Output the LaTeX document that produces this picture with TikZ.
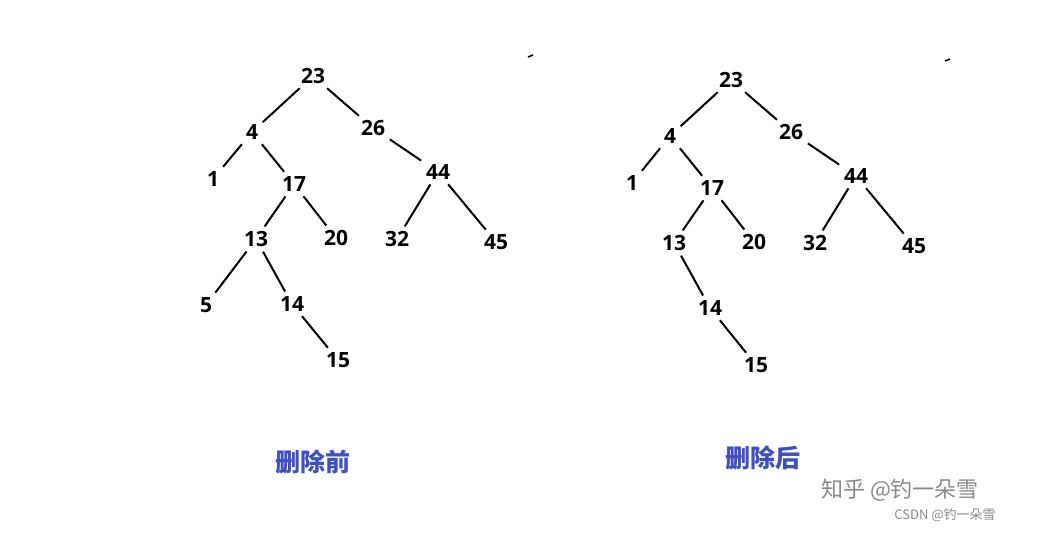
\documentclass[tikz,border=0pt]{standalone}
\usepackage{fontspec}
\setmainfont{Open Sans}
\newfontfamily\cjk{Noto Sans CJK SC}
\definecolor{lblue}{HTML}{3F4FC8}
\definecolor{wm}{HTML}{8A8A8A}
\begin{document}
\begin{tikzpicture}[x=1pt,y=-1pt,
  num/.style={font=\fontsize{21}{21}\selectfont\bfseries, inner sep=3pt},
  edge/.style={line width=2pt, shorten <=2pt, shorten >=2pt},
  captext/.style={font=\cjk\fontsize{25}{25}\selectfont\bfseries, text=lblue}]
\useasboundingbox (0,0) rectangle (1040,533);
\fill[white] (0,0) rectangle (1040,533);
% left tree
\node[num] (a23) at (313,76) {23};
\node[num] (a4) at (252,132) {4};
\node[num] (a26) at (373,128) {26};
\node[num] (a1) at (213,179) {1};
\node[num] (a17) at (294,184) {17};
\node[num] (a44) at (438,172) {44};
\node[num] (a13) at (256,239) {13};
\node[num] (a20) at (336,238) {20};
\node[num] (a32) at (397,239) {32};
\node[num] (a45) at (496,242) {45};
\node[num] (a5) at (206,305) {5};
\node[num] (a14) at (292,304) {14};
\node[num] (a15) at (338,360) {15};
\foreach \p/\c in {a23/a4,a23/a26,a4/a1,a4/a17,a26/a44,a17/a13,a17/a20,a44/a32,a44/a45,a13/a5,a13/a14,a14/a15}
  \draw[edge] (\p) -- (\c);
% right tree
\node[num] (b23) at (731,80) {23};
\node[num] (b4) at (670,136) {4};
\node[num] (b26) at (791,132) {26};
\node[num] (b1) at (632,183) {1};
\node[num] (b17) at (712,188) {17};
\node[num] (b44) at (856,176) {44};
\node[num] (b13) at (674,243) {13};
\node[num] (b20) at (754,242) {20};
\node[num] (b32) at (815,243) {32};
\node[num] (b45) at (914,246) {45};
\node[num] (b14) at (710,308) {14};
\node[num] (b15) at (756,365) {15};
\foreach \p/\c in {b23/b4,b23/b26,b4/b1,b4/b17,b26/b44,b17/b13,b17/b20,b44/b32,b44/b45,b13/b14,b14/b15}
  \draw[edge] (\p) -- (\c);
% small marks
\draw[line width=1.5pt] (528,57) -- (533,55);
\draw[line width=1.5pt] (945,61) -- (950,59);
% captions
\node[captext] (c1) at (313,462) {删除前};
\node[captext] (c2) at (763,458) {删除后};
\node[font=\cjk\fontsize{22}{22}\selectfont, text=wm] (w1) at (900,490) {知乎 @钓一朵雪};
\node[font=\cjk\fontsize{13}{13}\selectfont, text=wm] (w2) at (945,515) {CSDN @钓一朵雪};
\end{tikzpicture}
\end{document}
